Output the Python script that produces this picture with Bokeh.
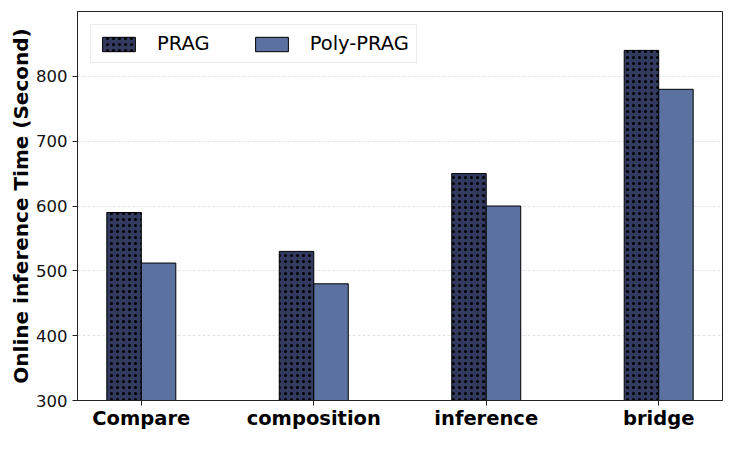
from bokeh.plotting import figure
from bokeh.models import Range1d, FixedTicker
from bokeh.embed import file_html
from bokeh.resources import INLINE
import numpy as np

categories = ["Compare", "composition", "inference", "bridge"]
prag = [590, 530, 650, 840]
poly_prag = [512, 480, 600, 780]
y_ticks = [300, 400, 500, 600, 700, 800]

x = np.arange(len(categories))
W = 0.2

p = figure(width=727, height=460, output_backend="svg", toolbar_location=None,
           x_range=Range1d(-0.37, 3.37), y_range=Range1d(300, 900),
           min_border_left=77, min_border_right=5, min_border_top=11, min_border_bottom=60)

p.vbar(x=x - W / 2, top=prag, bottom=300, width=W, fill_color="#323a5f",
       line_color="black", line_width=1, hatch_pattern="dot", hatch_color="black",
       hatch_scale=6, hatch_weight=0.7, legend_label="PRAG")
p.vbar(x=x + W / 2, top=poly_prag, bottom=300, width=W, fill_color="#5b72a0",
       line_color="black", line_width=1, legend_label="Poly-PRAG")

p.xaxis.ticker = FixedTicker(ticks=list(x))
p.xaxis.major_label_overrides = {int(i): c for i, c in zip(x, categories)}
p.xaxis.major_label_text_font = "DejaVu Sans"
p.xaxis.major_label_text_font_style = "bold"
p.xaxis.major_label_text_font_size = "19.5px"
p.xaxis.major_label_text_color = "black"
p.xaxis.major_label_standoff = 1
p.xaxis.minor_tick_line_color = None
p.xaxis.major_tick_out = 5
p.xaxis.major_tick_in = 0

p.yaxis.ticker = FixedTicker(ticks=y_ticks)
p.yaxis.major_label_text_font = "DejaVu Sans"
p.yaxis.major_label_text_font_size = "16.5px"
p.yaxis.major_label_text_color = "#111111"
p.yaxis.major_label_standoff = 5
p.yaxis.minor_tick_line_color = None
p.yaxis.major_tick_out = 5
p.yaxis.major_tick_in = 0
p.yaxis.axis_label = "Online inference Time (Second)"
p.yaxis.axis_label_text_font = "DejaVu Sans"
p.yaxis.axis_label_text_font_style = "bold"
p.yaxis.axis_label_text_font_size = "20px"
p.yaxis.axis_label_text_color = "black"
p.yaxis.axis_label_standoff = 0

for ax in (p.xaxis, p.yaxis):
    ax.axis_line_color = "#222222"
    ax.major_tick_line_color = "#222222"

p.outline_line_color = "#222222"
p.outline_line_width = 1
p.xgrid.grid_line_color = None
p.ygrid.grid_line_color = "#e3e3e3"
p.ygrid.grid_line_dash = "3 2"

p.legend.location = "top_left"
p.legend.orientation = "horizontal"
p.legend.label_text_font = "DejaVu Sans"
p.legend.label_text_font_size = "19.5px"
p.legend.label_text_color = "black"
p.legend.glyph_width = 41
p.legend.glyph_height = 18
p.legend.label_standoff = 18
p.legend.spacing = 41
p.legend.padding = 7
p.legend.margin = 13
p.legend.border_line_color = "#d8d8d8"
p.legend.background_fill_alpha = 0.9

open("out.html", "w").write(file_html(p, INLINE))
